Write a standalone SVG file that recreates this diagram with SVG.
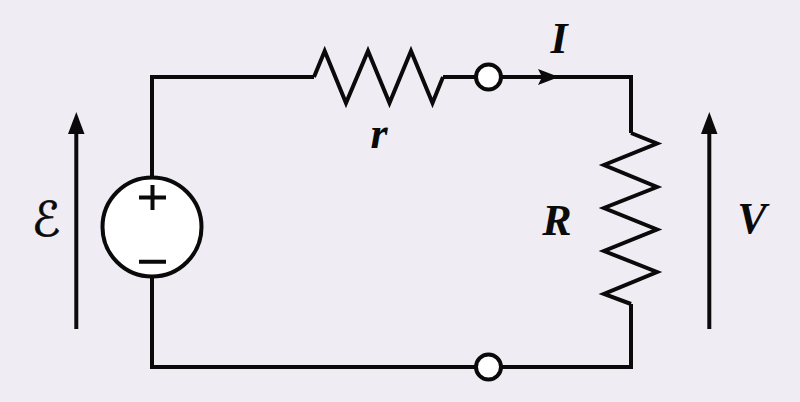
<svg xmlns="http://www.w3.org/2000/svg" width="800" height="402" viewBox="0 0 800 402">
<style>
.w{fill:none;stroke:#0a0a0a;stroke-width:4;stroke-linejoin:miter;stroke-linecap:butt}
.n{fill:#fff;stroke:#0a0a0a;stroke-width:4}
.h{fill:#0a0a0a;stroke:none}
.t{font-family:"Liberation Serif","Times New Roman",serif;font-weight:bold;font-style:italic;fill:#0a0a0a;text-anchor:middle;font-size:44px}
</style>
<rect width="800" height="402" fill="#efedf3"/>
<g id="connectors">
<path class="w" d="M152 178V77H314"/>
<path class="w" d="M443 77H476"/>
<path class="w" d="M501 77H631V133"/>
<path class="w" d="M631 304V367H501"/>
<path class="w" d="M476 367H152V277"/>
<path class="h" d="M538 69 L559 77 L538 85 L542 77Z"/>
</g>
<g id="resistor-r"><path class="w" d="M314 77L324.700 51L346 103L368 51L389.500 103L411 51L432.500 103L443 77"/></g>
<g id="resistor-R"><path class="w" d="M631 133L657 143.500L604 165L657 187L604 208L657 229.500L604 251L657 272L604 294L631 304"/></g>
<g id="source">
<circle class="n" cx="152" cy="227" r="49.500"/>
<path class="w" d="M139 197.500H166M152.500 185V210M139 261.700H166"/>
</g>
<g id="terminal-top"><circle class="n" cx="488.500" cy="77" r="12.500"/></g>
<g id="terminal-bottom"><circle class="n" cx="488.500" cy="367" r="12.500"/></g>
<g id="arrow-emf"><path class="w" d="M76.300 329V130"/><path class="h" d="M76.300 112L84.500 134H68Z"/></g>
<g id="arrow-v"><path class="w" d="M709.300 329V130"/><path class="h" d="M709.300 112L717.500 134H701Z"/></g>
<text class="t" x="559" y="53" font-size="46">I</text>
<text class="t" x="379" y="148">r</text>
<text class="t" x="557" y="235">R</text>
<text class="t" x="752" y="233">V</text>
<text x="46" y="236" text-anchor="middle" font-family="DejaVu Sans,sans-serif" font-style="italic" font-size="48" fill="#0a0a0a" stroke="#0a0a0a" stroke-width="0.6">ℰ</text>
</svg>
